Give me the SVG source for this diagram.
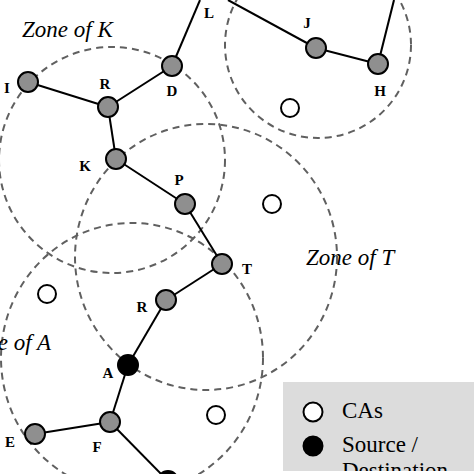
<svg xmlns="http://www.w3.org/2000/svg" width="474" height="474" viewBox="0 0 474 474">
<style>
.zone{fill:none;stroke:#606060;stroke-width:2;stroke-dasharray:7 5}
.edge{stroke:#000;stroke-width:2;fill:none}
.n{fill:#8f8f8f;stroke:#000;stroke-width:2}
.ca{fill:#fff;stroke:#000;stroke-width:2}
.src{fill:#000;stroke:#000;stroke-width:2}
.lbl{font-family:"Liberation Serif","Times New Roman",serif;font-weight:bold;font-size:15px;text-anchor:middle;fill:#000}
.zl{font-family:"Liberation Serif","Times New Roman",serif;font-style:italic;font-size:23px;fill:#000}
.lg{font-family:"Liberation Serif","Times New Roman",serif;font-size:23px;fill:#000}
</style>
<defs><clipPath id="lc"><rect x="283" y="382" width="191" height="89"/></clipPath></defs>
<rect width="474" height="474" fill="#fff"/>
<g id="zones">
<circle class="zone" cx="112" cy="160" r="113"/>
<ellipse class="zone" cx="206" cy="257" rx="131" ry="133"/>
<ellipse class="zone" cx="132" cy="358" rx="131" ry="135"/>
<circle class="zone" cx="318" cy="45" r="93"/>
</g>
<g id="connectors">
<line class="edge" x1="200" y1="0" x2="172" y2="66"/>
<line class="edge" x1="172" y1="66" x2="108" y2="107"/>
<line class="edge" x1="108" y1="107" x2="28" y2="82"/>
<line class="edge" x1="108" y1="107" x2="116" y2="159"/>
<line class="edge" x1="116" y1="159" x2="185" y2="204"/>
<line class="edge" x1="185" y1="204" x2="222" y2="264"/>
<line class="edge" x1="222" y1="264" x2="166" y2="300"/>
<line class="edge" x1="166" y1="300" x2="128" y2="365"/>
<line class="edge" x1="128" y1="365" x2="110" y2="422"/>
<line class="edge" x1="110" y1="422" x2="35" y2="434"/>
<line class="edge" x1="110" y1="422" x2="168" y2="481"/>
<line class="edge" x1="228" y1="0" x2="316" y2="48"/>
<line class="edge" x1="316" y1="48" x2="378" y2="64"/>
<line class="edge" x1="378" y1="64" x2="394" y2="0"/>
</g>
<g id="zone-labels">
<text class="zl" x="22" y="37">Zone of K</text>
<text class="zl" x="306" y="265">Zone of T</text>
<text class="zl" x="51" y="350" text-anchor="end">Zone of A</text>
</g>
<g id="node-L"><text class="lbl" x="209" y="18">L</text></g>
<g id="node-D"><circle class="n" cx="172" cy="66" r="10"/><text class="lbl" x="172" y="96">D</text></g>
<g id="node-R1"><circle class="n" cx="108" cy="107" r="10"/><text class="lbl" x="105" y="89">R</text></g>
<g id="node-I"><circle class="n" cx="28" cy="82" r="10"/><text class="lbl" x="7" y="93">I</text></g>
<g id="node-K"><circle class="n" cx="116" cy="159" r="10"/><text class="lbl" x="85" y="171">K</text></g>
<g id="node-P"><circle class="n" cx="185" cy="204" r="10"/><text class="lbl" x="179" y="185">P</text></g>
<g id="node-T"><circle class="n" cx="222" cy="264" r="10"/><text class="lbl" x="247" y="274">T</text></g>
<g id="node-R2"><circle class="n" cx="166" cy="300" r="10"/><text class="lbl" x="142" y="312">R</text></g>
<g id="node-A"><circle class="src" cx="128" cy="365" r="10"/><text class="lbl" x="108" y="378">A</text></g>
<g id="node-F"><circle class="n" cx="110" cy="422" r="10"/><text class="lbl" x="97" y="452">F</text></g>
<g id="node-E"><circle class="n" cx="35" cy="434" r="10"/><text class="lbl" x="10" y="447">E</text></g>
<g id="node-bottom"><circle class="src" cx="168" cy="481" r="10"/></g>
<g id="node-J"><circle class="n" cx="316" cy="48" r="10"/><text class="lbl" x="307" y="28">J</text></g>
<g id="node-H"><circle class="n" cx="378" cy="64" r="10"/><text class="lbl" x="380" y="96">H</text></g>
<g id="cas">
<circle class="ca" cx="290" cy="108" r="9"/>
<circle class="ca" cx="272" cy="204" r="9"/>
<circle class="ca" cx="47" cy="294" r="9"/>
<circle class="ca" cx="216" cy="415" r="9"/>
</g>
<g id="legend">
<rect x="283" y="382" width="191" height="89" fill="#dcdcdc"/>
<circle class="ca" cx="313" cy="412" r="9.5"/>
<circle class="src" cx="313" cy="446" r="9.5"/>
<g clip-path="url(#lc)">
<text class="lg" x="342" y="418">CAs</text>
<text class="lg" x="342" y="452">Source /</text>
<text class="lg" x="342" y="478">Destination</text>
</g>
</g>
</svg>
